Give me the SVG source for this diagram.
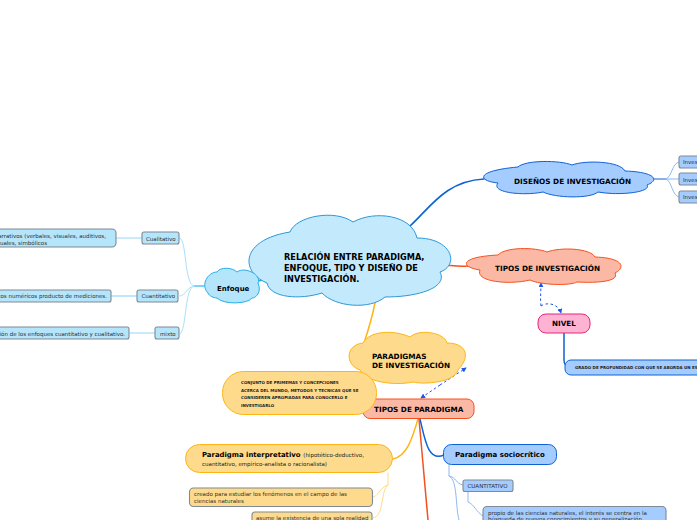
<svg xmlns="http://www.w3.org/2000/svg" width="697" height="520" viewBox="0 0 697 520">
<style>
text{font-family:"DejaVu Sans",Verdana,sans-serif;fill:#1a1a1a}
.b{font-weight:bold;fill:#000}
.s{font-size:5.500px;fill:#2e2e2e}
.t{font-size:4px;font-weight:bold;fill:#222}
.e{text-anchor:end}
.c{fill:none;stroke-linecap:round}
.sub{stroke:#7f8a94;stroke-width:1.100}
.lb{fill:#b5e5fb}
.db{fill:#a4ccff}
.or{fill:#fedb8c}
.dash{fill:none;stroke:#1d55e8;stroke-width:1;stroke-dasharray:2.500 2.500}
</style>
<defs>
<marker id="ah" viewBox="0 0 6 6" refX="5" refY="3" markerWidth="5" markerHeight="5" orient="auto"><path d="M0 0L6 3L0 6Z" fill="#1d55e8"/></marker>
</defs>
<g id="connectors">
<path class="c" d="M410 226C430 208 445 181 484 179" stroke="#0f62d6" stroke-width="1.600"/>
<path class="c" d="M446 265C455 266 460 267 468 266" stroke="#f4511e" stroke-width="1.500"/>
<path class="c" d="M375 303C372 318 368 331 364 343" stroke="#fdb515" stroke-width="1.500"/>
<path class="c" d="M258 281L268 279" stroke="#25aee8" stroke-width="1.500"/>
<path class="c" d="M205 286L194 286" stroke="#7fd3f7" stroke-width="2"/>
<path class="c" d="M194 286C184 284 187 241 180 238" stroke="#a8e0fa" stroke-width="1"/>
<path class="c" d="M194 286C187 287 186 295 180 296" stroke="#a8e0fa" stroke-width="1"/>
<path class="c" d="M194 286C184 288 187 330 180 334" stroke="#a8e0fa" stroke-width="1"/>
<path class="c" d="M116 238L142 238" stroke="#8fd8f8" stroke-width="1"/>
<path class="c" d="M112 296L137 296" stroke="#bce8fb" stroke-width="2"/>
<path class="c" d="M130 333L155 333" stroke="#8fd8f8" stroke-width="1"/>
<path class="c" d="M653 179L666 179" stroke="#0f62d6" stroke-width="1"/>
<path class="c" d="M666 179C672 177 672 163 679 162" stroke="#8fb8f0" stroke-width="1"/>
<path class="c" d="M666 179L679 179" stroke="#8fb8f0" stroke-width="1"/>
<path class="c" d="M666 179C672 181 672 196 679 197" stroke="#8fb8f0" stroke-width="1"/>
<path class="c" d="M564 333L564 360C564 365 566 366 570 367" stroke="#0f62d6" stroke-width="1.500"/>
<path class="c" d="M418 419C413 435 408 456 393 459" stroke="#fdb515" stroke-width="1.500"/>
<path class="c" d="M420 419C425 440 428 462 444 455" stroke="#0f62d6" stroke-width="1.500"/>
<path class="c" d="M419 419L428 520" stroke="#f4511e" stroke-width="1.500"/>
<path class="c" d="M388 473L388 485C380 487 378 497 373 497" stroke="#fedb8c" stroke-width="1"/>
<path class="c" d="M388 485C380 490 385 516 373 518" stroke="#fedb8c" stroke-width="1"/>
<path class="c" d="M449 465L449 476C456 477 456 484 463 485" stroke="#8fb8f0" stroke-width="1"/>
<path class="c" d="M449 476C458 480 455 505 459 520" stroke="#8fb8f0" stroke-width="1"/>
<path class="c" d="M468 492L468 502C474 504 476 512 483 516" stroke="#8fb8f0" stroke-width="1"/>
<path class="dash" marker-end="url(#ah)" d="M541 306C540 298 541 291 541 283"/>
<path class="dash" marker-end="url(#ah)" d="M541 306C546 302 558 303 561 313"/>
<path class="dash" marker-end="url(#ah)" d="M440 385L466 368"/>
<path class="dash" marker-end="url(#ah)" d="M440 385L421 398"/>
</g>
<g id="central">
<path fill="#c3e9fd" stroke="#2f97d6" stroke-width="1" d="M267 283C240 272 240 240 290 232C296 216 335 209 353 222C375 210 412 215 417 238C452 238 460 265 440 272C448 287 420 297 385 297C370 310 335 307 322 293C300 300 270 298 267 283Z"/>
<text class="b" font-size="8.200"><tspan x="284" y="260">RELACIÓN ENTRE PARADIGMA,</tspan><tspan x="284" y="271">ENFOQUE, TIPO Y DISEÑO DE</tspan><tspan x="284" y="282">INVESTIGACIÓN.</tspan></text>
</g>
<g id="disenos">
<path class="db" stroke="#0f62d6" stroke-width="1" d="M498 183C478 181 474 171 518 167C525 160 560 160 572 165C585 160 620 161 625 171C655 172 660 180 647 185C652 192 620 196 598 192C590 199 555 198 543 192C525 196 490 193 498 183Z"/>
<text class="b" font-size="7.300" x="514" y="184">DISEÑOS DE INVESTIGACIÓN</text>
</g>
<g id="tipos-inv">
<path fill="#fbb9a5" stroke="#f4511e" stroke-width="1" d="M480 270C460 267 459 257 498 255C505 247 535 247 547 252C560 247 590 248 595 257C625 258 625 268 615 273C620 282 595 283 577 282C570 286 540 285 530 280C510 285 475 282 480 270Z"/>
<text class="b" font-size="7.300" x="495" y="271">TIPOS DE INVESTIGACIÓN</text>
</g>
<g id="nivel">
<rect x="538" y="314" width="52" height="19" rx="8" fill="#ffb3d3" stroke="#e6257a"/>
<text class="b" font-size="7.200" x="552" y="326">NIVEL</text>
</g>
<g id="grado">
<rect x="565" y="360" width="150" height="15" rx="6" class="db" stroke="#0f62d6"/>
<text class="t" x="575" y="369">GRADO DE PROFUNDIDAD CON QUE SE ABORDA UN ESTUDIO</text>
</g>
<g id="inv1"><rect x="679" y="156" width="40" height="12" rx="2" class="db sub"/><text class="s" x="683" y="164">Investigación</text></g>
<g id="inv2"><rect x="679" y="173" width="40" height="12" rx="2" class="db sub"/><text class="s" x="683" y="182">Investigación</text></g>
<g id="inv3"><rect x="679" y="191" width="40" height="12" rx="2" class="db sub"/><text class="s" x="683" y="199">Investigación</text></g>
<g id="enfoque">
<path fill="#b5e5fb" stroke="#25aee8" stroke-width="1" d="M208 293C200 285 208 272 217 272C220 267 232 267 237 272C245 266 262 275 258 283C262 292 256 298 252 298C248 304 224 305 217 298C214 298 209 296 208 293Z"/>
<text class="b" font-size="7" x="217" y="291">Enfoque</text>
</g>
<g id="cualitativo"><rect x="142" y="232" width="37" height="12" rx="2" class="lb sub"/><text class="s" x="146" y="241">Cualitativo</text></g>
<g id="cuantitativo"><rect x="137" y="290" width="41" height="12" rx="2" class="lb sub"/><text class="s" x="141.500" y="298">Cuantitativo</text></g>
<g id="mixto"><rect x="155" y="327" width="24" height="12" rx="2" class="lb sub"/><text class="s" x="160" y="336">mixto</text></g>
<g id="cual-desc"><rect x="-60" y="229" width="176" height="18" rx="4" class="lb sub"/><text class="s e"><tspan x="106" y="238">Datos narrativos (verbales, visuales, auditivos,</tspan><tspan x="47" y="244.500">textuales, simbólicos</tspan></text></g>
<g id="cuant-desc"><rect x="-60" y="290" width="171" height="12" rx="2" class="lb sub"/><text class="s e" x="107" y="298">Datos numéricos producto de mediciones.</text></g>
<g id="mixto-desc"><rect x="-60" y="327" width="189" height="12" rx="2" class="lb sub"/><text class="s e" x="125" y="336">Combinación de los enfoques cuantitativo y cualitativo.</text></g>
<g id="paradigmas">
<path class="or" stroke="#fdb515" stroke-width="1" d="M360 370C345 365 345 345 363 343C370 330 395 330 410 337C420 328 445 333 447 343C465 343 472 355 458 370C455 382 425 385 413 382C395 386 365 382 360 370Z"/>
<text class="b" font-size="7.300"><tspan x="372" y="359">PARADIGMAS</tspan><tspan x="372" y="368">DE INVESTIGACIÓN</tspan></text>
</g>
<g id="tipos-par">
<rect x="363" y="399" width="111" height="19.500" rx="7" fill="#fbb9a5" stroke="#f4511e"/>
<text class="b" font-size="7.250" x="374" y="412">TIPOS DE PARADIGMA</text>
</g>
<g id="conjunto">
<rect x="222.500" y="371.500" width="154" height="43" rx="21" class="or" stroke="#fdb515"/>
<text class="t"><tspan x="241" y="384">CONJUNTO DE PRIMEMAS Y CONCEPCIONES</tspan><tspan x="241" y="392">ACERCA DEL MUNDO, METODOS Y TECNICAS QUE SE</tspan><tspan x="241" y="399">CONSIDEREN APROPIADAS PARA CONOCERLO E</tspan><tspan x="241" y="407">INVESTIGARLO</tspan></text>
</g>
<g id="interp">
<rect x="185.500" y="444.500" width="207" height="28" rx="14" class="or" stroke="#fdb515"/>
<text font-size="5.500" fill="#2e2e2e"><tspan x="202" y="457" font-size="6.900" font-weight="bold" fill="#000">Paradigma interpretativo</tspan><tspan dx="1"> (hipotético-deductivo,</tspan><tspan x="202" y="466">cuantitativo, empírico-analista o racionalista)</tspan></text>
</g>
<g id="creado"><rect x="189.500" y="488" width="183" height="18.500" rx="4" class="or sub"/><text class="s"><tspan x="194" y="496">creado para estudiar los fenómenos en el campo de las</tspan><tspan x="194" y="503">ciencias naturales</tspan></text></g>
<g id="asume"><rect x="252" y="512" width="120" height="18" rx="3" class="or sub"/><text class="s" x="256" y="520">asume la existencia de una sola realidad</text></g>
<g id="socio">
<rect x="443.500" y="444.500" width="113" height="20" rx="8" class="db" stroke="#0f62d6"/>
<text class="b" font-size="7" x="455" y="457">Paradigma sociocrítico</text>
</g>
<g id="cuanti"><rect x="463" y="480" width="50" height="11.500" rx="2" class="db sub"/><text class="s" x="467.500" y="488">CUANTITATIVO</text></g>
<g id="propio"><rect x="483" y="506.500" width="183" height="30" rx="4" class="db sub"/><text class="s"><tspan x="488" y="515">propio de las ciencias naturales, el interés se centra en la</tspan><tspan x="488" y="521">búsqueda de nuevos conocimientos y su generalización</tspan></text></g>
</svg>
